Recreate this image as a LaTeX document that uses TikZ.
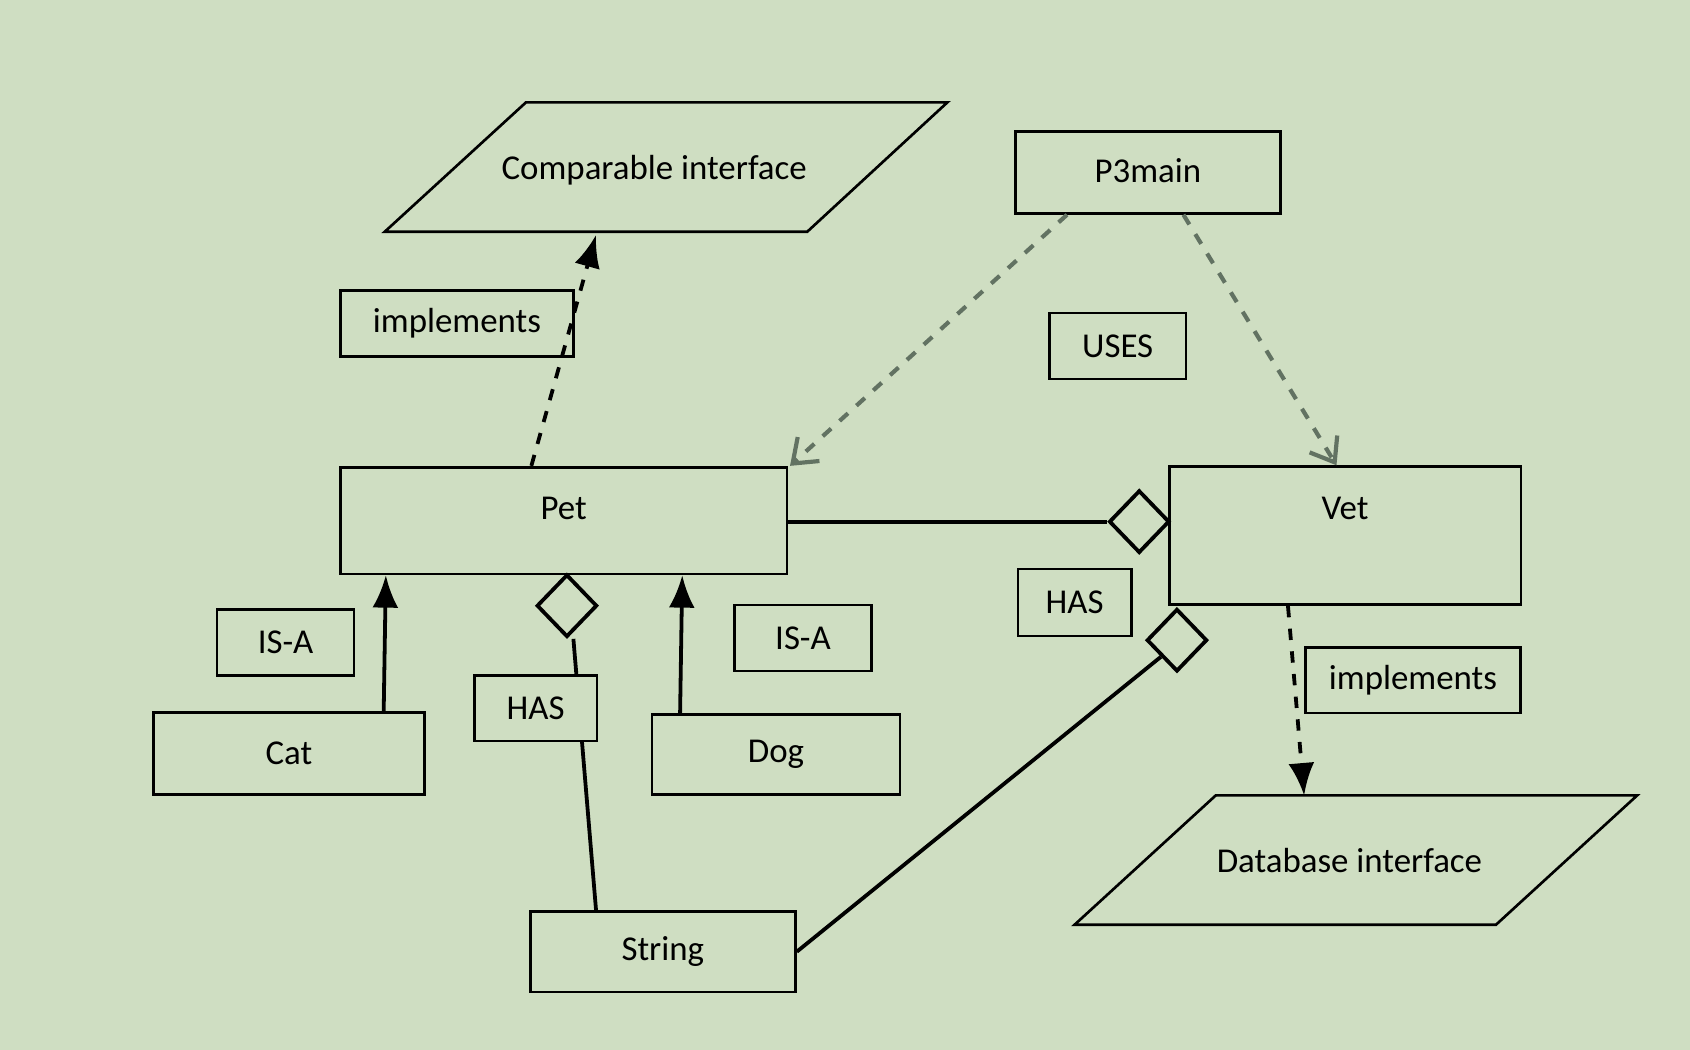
\documentclass[tikz,border=0pt]{standalone}
\usepackage{fontspec}
\setmainfont{Carlito}
\usetikzlibrary{positioning,shapes.geometric,arrows.meta}
\definecolor{bgcol}{RGB}{207,222,194}
\definecolor{usegray}{RGB}{98,114,98}
\begin{document}
\begin{tikzpicture}[x=0.01cm,y=-0.01cm]
    % Stili
    \tikzset{
        box/.style={
            draw=black, % bordo
            line width=0.7pt,
            rectangle,
            align=center,
            font=\fontsize{9.2}{11}\selectfont,
            inner sep=0pt
        },
        has/.style={
            draw=black,
            line width=1pt,
            fill=bgcol,
            diamond,
            minimum width=0.56cm,
            minimum height=0.58cm,
            inner sep=0pt
        },
        link/.style={line width=1pt},
        isa/.style={line width=1pt, -{Latex[length=3mm,width=2.4mm]}},
        impl/.style={line width=1pt, dashed, -{Latex[length=3mm,width=2.4mm]}},
        uses/.style={line width=1.1pt, dashed, color=usegray, -{Straight Barb[length=2mm,width=3mm]}}
    }

    % Sfondo
    \fill[bgcol] (0,0) rectangle (1568,974);
    \useasboundingbox (0,0) rectangle (1568,974);

    % Interfacce
    \draw[line width=0.7pt] (488,95) -- (879,95) -- (749,215) -- (357,215) -- cycle;
    \node[font=\fontsize{9.2}{11}\selectfont] (comparable) at (607,158) {Comparable interface};
    \coordinate (comp_in) at (553,218);
    \draw[line width=0.7pt] (1128,738) -- (1519,738) -- (1388,858) -- (997,858) -- cycle;
    \node[font=\fontsize{9.2}{11}\selectfont] (database) at (1252,798) {Database interface};
    \coordinate (db_in) at (1210,738);

    % Classi
    \node[box, minimum width=2.46cm, minimum height=0.76cm,
        label={[anchor=north,yshift=-0.14cm,font=\fontsize{9.2}{11}\selectfont]north:P3main}] (p3main) at (1065,160) {};
    \node[box, minimum width=4.14cm, minimum height=0.99cm,
        label={[anchor=north,yshift=-0.17cm,font=\fontsize{9.2}{11}\selectfont]north:Pet}] (pet) at (523,483) {};
    \node[box, minimum width=3.26cm, minimum height=1.28cm,
        label={[anchor=north,yshift=-0.17cm,font=\fontsize{9.2}{11}\selectfont]north:Vet}] (vet) at (1248,497) {};
    \node[box, minimum width=2.51cm, minimum height=0.76cm] (cat) at (268,699) {Cat};
    \node[box, minimum width=2.30cm, minimum height=0.74cm] (dog) at (720,700) {Dog};
    \node[box, minimum width=2.46cm, minimum height=0.75cm] (string) at (615,883) {String};

    % Aggregazioni
    \node[has] (vet_has) at (1057,484) {};
    \node[has] (pet_has) at (526,562) {};
    \node[has] (vet_has2) at (1092,594) {};
    \draw[link] (pet.east |- vet_has.west) -- (vet_has.west);
    \draw[link] (string.north -| 553,0) -- ([xshift=0.06cm]pet_has.south);
    \draw[link] (string.east) -- (vet_has2.south west);

    % Etichette
    \node[box, minimum width=2.16cm, minimum height=0.61cm] (impl1) at (424,300) {implements};
    \node[box, minimum width=1.27cm, minimum height=0.61cm] (uses) at (1037,321) {USES};
    \node[box, minimum width=1.27cm, minimum height=0.61cm] (isa1) at (265,596) {IS-A};
    \node[box, fill=bgcol, minimum width=1.14cm, minimum height=0.61cm] (has1) at (497,657) {HAS};
    \node[box, minimum width=1.27cm, minimum height=0.61cm] (isa2) at (745,592) {IS-A};
    \node[box, minimum width=1.05cm, minimum height=0.62cm] (has2) at (997,559) {HAS};
    \node[box, minimum width=1.99cm, minimum height=0.61cm] (impl2) at (1311,631) {implements};

    % Ereditarieta'
    \draw[isa] (cat.north -| 356,0) -- (pet.south -| 358,0);
    \draw[isa] (dog.north -| 631,0) -- (pet.south -| 633,0);

    % Implementazioni
    \draw[impl] (pet.north -| 493,0) -- (comp_in);
    \draw[impl] (vet.south -| 1195,0) -- (db_in);

    % Uso
    \draw[uses] (p3main.south -| 990,0) -- (pet.north -| 733,0);
    \draw[uses] (p3main.south -| 1098,0) -- (vet.north -| 1240,0);

\end{tikzpicture}
\end{document}
